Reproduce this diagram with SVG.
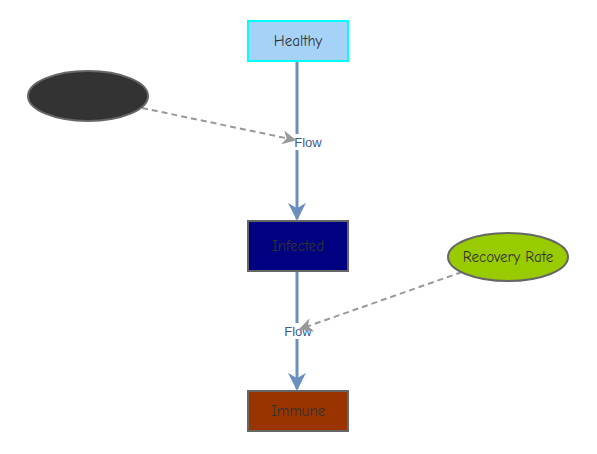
<svg xmlns="http://www.w3.org/2000/svg" width="597" height="454" viewBox="0 0 597 454">
<style>
.node text{font-family:"Comic Sans MS","Comic Neue","DejaVu Sans",sans-serif;font-size:15px;text-anchor:middle;dominant-baseline:central;fill:#333}
.flow{stroke:#6C8EBF;stroke-width:3;fill:none}
.dash{stroke:#999;stroke-width:2;stroke-dasharray:6 4;fill:none}
.lbl{font-family:"Liberation Sans",Arial,sans-serif;font-size:13px;fill:#3E5A94;text-anchor:middle;dominant-baseline:central}
</style>
<defs>
<marker id="fa" viewBox="0 0 10 10" refX="9" refY="5" markerWidth="6" markerHeight="6" orient="auto" markerUnits="strokeWidth">
<path d="M0,0 L10,5 L0,10 L3,5 Z" fill="#6C8EBF"/>
</marker>
<marker id="da" viewBox="0 0 10 10" refX="9" refY="5" markerWidth="7" markerHeight="7" orient="auto" markerUnits="strokeWidth">
<path d="M0,0 L10,5 L0,10 L3,5 Z" fill="#999"/>
</marker>
</defs>
<rect width="597" height="454" fill="#fff"/>
<g id="connectors">
<line class="flow" x1="297" y1="62" x2="297" y2="219" marker-end="url(#fa)"/>
<line class="flow" x1="297" y1="272" x2="297" y2="389" marker-end="url(#fa)"/>
<rect x="292" y="134" width="32" height="16" fill="#fff"/>
<text class="lbl" x="308" y="142">Flow</text>
<rect x="282" y="323" width="32" height="16" fill="#fff"/>
<text class="lbl" x="298" y="331">Flow</text>
<line class="dash" x1="142" y1="108" x2="295" y2="140" marker-end="url(#da)"/>
<line class="dash" x1="462" y1="272" x2="300" y2="329" marker-end="url(#da)"/>
</g>
<g id="healthy" class="node">
<rect x="248" y="21" width="100" height="40" fill="#A6D2F7" stroke="#00FFFF" stroke-width="2"/>
<text x="298" y="41">Healthy</text>
</g>
<g id="infected" class="node">
<rect x="248" y="221" width="100" height="50" fill="#000080" stroke="#666" stroke-width="2"/>
<text x="298" y="246">Infected</text>
</g>
<g id="immune" class="node">
<rect x="248" y="391" width="100" height="40" fill="#993300" stroke="#666" stroke-width="2"/>
<text x="298" y="411">Immune</text>
</g>
<g id="unnamed" class="node">
<ellipse cx="88" cy="96" rx="60" ry="25" fill="#333" stroke="#666" stroke-width="2"/>
</g>
<g id="recovery" class="node">
<ellipse cx="508" cy="257" rx="60" ry="24" fill="#99CC00" stroke="#666" stroke-width="2"/>
<text x="508" y="257">Recovery Rate</text>
</g>
</svg>
